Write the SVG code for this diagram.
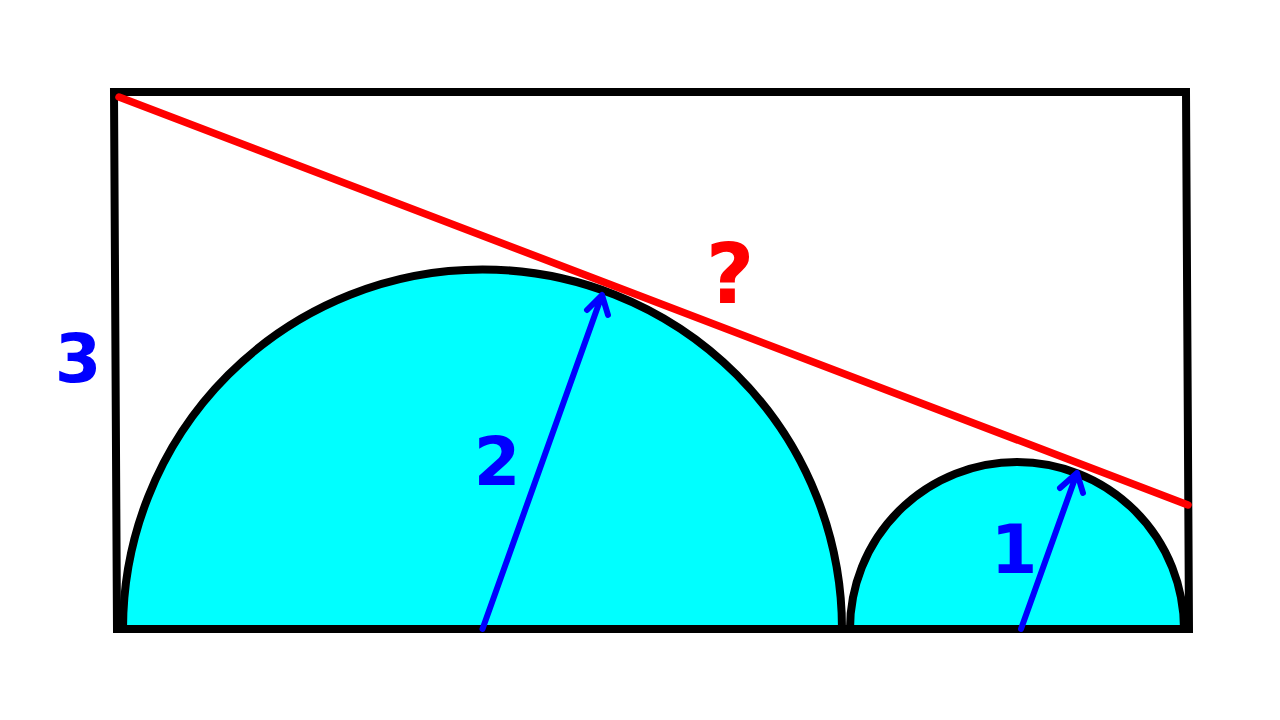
<svg xmlns="http://www.w3.org/2000/svg" width="1280" height="720" viewBox="0 0 1280 720">
<defs>
<style>
.outline{fill:none;stroke:#000;stroke-width:8;stroke-linejoin:miter}
.semi{fill:#00ffff;stroke:#000;stroke-width:8}
.radius{fill:none;stroke:#0000ff;stroke-width:6;stroke-linecap:round;stroke-linejoin:round}
.lbl{font-family:"DejaVu Sans","Liberation Sans",sans-serif;font-weight:bold;text-anchor:middle}
</style>
</defs>
<rect width="1280" height="720" fill="#fff"/>
<g id="big-semicircle">
<path class="semi" d="M123,629 A359.5,359.5 0 0 1 842,629 Z"/>
</g>
<g id="small-semicircle">
<path class="semi" d="M850,629 A167,167 0 0 1 1184,629 Z"/>
</g>
<g id="rectangle">
<path class="outline" d="M114,92 L1186,92 L1189,629 L117,629 Z"/>
</g>
<g id="tangent-line">
<line x1="119" y1="97" x2="1188" y2="505" stroke="#ff0000" stroke-width="7.5" stroke-linecap="round"/>
</g>
<g id="radii">
<path class="radius" d="M482.5,629 L602,295 M587,310 L602,295 L608,315"/>
<path class="radius" d="M1021,629 L1077,473 M1060,488 L1077,473 L1083,493"/>
</g>
<g id="labels">
<text class="lbl" x="78" y="382" font-size="67" fill="#0000ff">3</text>
<text class="lbl" x="497" y="485" font-size="67" fill="#0000ff">2</text>
<text class="lbl" x="1014" y="573" font-size="67" fill="#0000ff">1</text>
<text class="lbl" x="730" y="303" font-size="84" fill="#ff0000">?</text>
</g>
</svg>
